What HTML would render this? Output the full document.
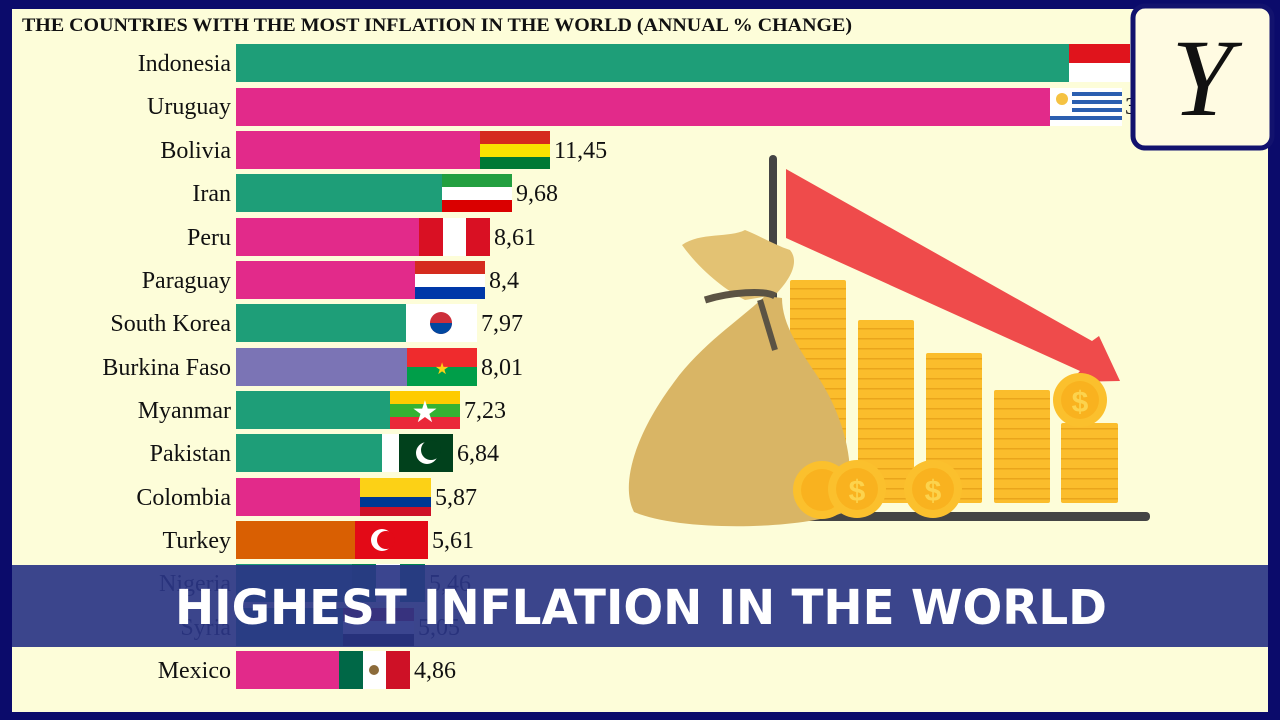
<!DOCTYPE html><html><head><meta charset="utf-8"><style>html,body{margin:0;padding:0;background:#0b0b6b;}svg{display:block}</style></head><body>
<svg width="1280" height="720" viewBox="0 0 1280 720" xmlns="http://www.w3.org/2000/svg">
<defs>
<pattern id="stripes" x="0" y="0" width="10" height="10" patternUnits="userSpaceOnUse">
<rect width="10" height="10" fill="#fbbd2c"/><rect y="8" width="10" height="1.5" fill="#eaa51c"/>
</pattern>
</defs>
<rect x="0" y="0" width="1280" height="720" fill="#0b0b6b"/>
<rect x="12" y="9" width="1256" height="703" fill="#fdfdd9"/>
<text x="22" y="31" font-family="Liberation Serif, serif" font-weight="bold" font-size="19" fill="#111" textLength="830" lengthAdjust="spacingAndGlyphs">THE COUNTRIES WITH THE MOST INFLATION IN THE WORLD (ANNUAL % CHANGE)</text>

<g>
<rect x="769" y="155" width="8" height="200" rx="4" fill="#444"/>
<rect x="790" y="512" width="360" height="9" rx="4" fill="#444"/>
<polygon points="786,169 1092,341 1099,336 1120,381 1070,382 1080,371 786,238" fill="#ef4b4b"/>
<g fill="url(#stripes)">
<rect x="790" y="280" width="56" height="223" rx="2"/>
<rect x="858" y="320" width="56" height="183" rx="2"/>
<rect x="926" y="353" width="56" height="150" rx="2"/>
<rect x="994" y="390" width="56" height="113" rx="2"/>
<rect x="1061" y="423" width="57" height="80" rx="2"/>
</g>
<circle cx="1080" cy="400" r="27" fill="#fbc02d"/><circle cx="1080" cy="400" r="19" fill="#f9b21f"/><text x="1080" y="412" text-anchor="middle" font-family="Liberation Sans,sans-serif" font-size="30" font-weight="bold" fill="#fcd34d">$</text>
<path d="M765,296 C740,320 700,345 672,385 C635,435 620,485 634,512 C680,532 800,530 845,512 C858,470 845,420 820,380 C800,350 782,325 782,298 Z" fill="#d9b565"/>
<path d="M682,245 C700,232 730,238 745,230 C760,236 775,245 790,250 C800,262 790,280 775,295 L745,300 C725,290 700,270 682,245 Z" fill="#e3c273"/>
<path d="M705,300 C730,292 765,290 775,296" stroke="#5b5344" stroke-width="7" fill="none"/>
<path d="M760,300 L775,350" stroke="#5b5344" stroke-width="6" fill="none"/>
<circle cx="822" cy="490" r="29" fill="#fbc02d"/><circle cx="822" cy="490" r="21" fill="#f9b21f"/>
<circle cx="857" cy="489" r="29" fill="#fbc02d"/><circle cx="857" cy="489" r="21" fill="#f9b21f"/><text x="857" y="501" text-anchor="middle" font-family="Liberation Sans,sans-serif" font-size="30" font-weight="bold" fill="#fcd34d">$</text>
<circle cx="933" cy="489" r="29" fill="#fbc02d"/><circle cx="933" cy="489" r="21" fill="#f9b21f"/><text x="933" y="501" text-anchor="middle" font-family="Liberation Sans,sans-serif" font-size="30" font-weight="bold" fill="#fcd34d">$</text>
</g>

<g font-family="Liberation Serif, serif" font-size="24" fill="#111">
<text x="231" y="71" text-anchor="end">Indonesia</text>
<rect x="236" y="44" width="833" height="38" fill="#1e9e78"/>
<rect x="1069" y="44" width="61" height="19" fill="#e0141c"/><rect x="1069" y="63" width="61" height="19" fill="#fff"/>
<text x="231" y="114" text-anchor="end">Uruguay</text>
<rect x="236" y="88" width="814" height="38" fill="#e22a8a"/>
<rect x="1050" y="88" width="72" height="38" fill="#fff"/>
<g fill="#2b5fb0"><rect x="1072" y="92" width="50" height="4"/><rect x="1072" y="100" width="50" height="4"/><rect x="1072" y="108" width="50" height="4"/><rect x="1050" y="116" width="72" height="4"/></g>
<circle cx="1062" cy="99" r="6" fill="#f5c242"/>
<text x="1125" y="114">3</text>
<text x="231" y="158" text-anchor="end">Bolivia</text>
<rect x="236" y="131" width="244" height="38" fill="#e22a8a"/>
<rect x="480" y="131" width="70" height="13" fill="#d52b1e"/><rect x="480" y="144" width="70" height="13" fill="#f9e300"/><rect x="480" y="157" width="70" height="12" fill="#007934"/>
<text x="554" y="158">11,45</text>
<text x="231" y="201" text-anchor="end">Iran</text>
<rect x="236" y="174" width="206" height="38" fill="#1e9e78"/>
<rect x="442" y="174" width="70" height="13" fill="#239f40"/><rect x="442" y="187" width="70" height="13" fill="#fff"/><rect x="442" y="200" width="70" height="12" fill="#da0000"/>
<text x="516" y="201">9,68</text>
<text x="231" y="245" text-anchor="end">Peru</text>
<rect x="236" y="218" width="183" height="38" fill="#e22a8a"/>
<rect x="419" y="218" width="24" height="38" fill="#d91023"/><rect x="443" y="218" width="23" height="38" fill="#fff"/><rect x="466" y="218" width="24" height="38" fill="#d91023"/>
<text x="494" y="245">8,61</text>
<text x="231" y="288" text-anchor="end">Paraguay</text>
<rect x="236" y="261" width="179" height="38" fill="#e22a8a"/>
<rect x="415" y="261" width="70" height="13" fill="#d52b1e"/><rect x="415" y="274" width="70" height="13" fill="#fff"/><rect x="415" y="287" width="70" height="12" fill="#0038a8"/>
<text x="489" y="288">8,4</text>
<text x="231" y="331" text-anchor="end">South Korea</text>
<rect x="236" y="304" width="170" height="38" fill="#1e9e78"/>
<rect x="406" y="304" width="71" height="38" fill="#fff"/>
<circle cx="441" cy="323" r="11" fill="#cd2e3a"/><path d="M430,323 A11,11 0 0 0 452,323 Z" fill="#0047a0"/>
<text x="481" y="331">7,97</text>
<text x="231" y="375" text-anchor="end">Burkina Faso</text>
<rect x="236" y="348" width="171" height="38" fill="#7b74b5"/>
<rect x="407" y="348" width="70" height="19" fill="#ef2b2d"/><rect x="407" y="367" width="70" height="19" fill="#009e49"/>
<text x="442" y="374" text-anchor="middle" font-size="16" fill="#fcd116">★</text>
<text x="481" y="375">8,01</text>
<text x="231" y="418" text-anchor="end">Myanmar</text>
<rect x="236" y="391" width="154" height="38" fill="#1e9e78"/>
<rect x="390" y="391" width="70" height="13" fill="#fecb00"/><rect x="390" y="404" width="70" height="13" fill="#34b233"/><rect x="390" y="417" width="70" height="12" fill="#ea2839"/>
<text x="425" y="422" text-anchor="middle" font-size="30" fill="#fff">★</text>
<text x="464" y="418">7,23</text>
<text x="231" y="461" text-anchor="end">Pakistan</text>
<rect x="236" y="434" width="146" height="38" fill="#1e9e78"/>
<rect x="382" y="434" width="17" height="38" fill="#fff"/><rect x="399" y="434" width="54" height="38" fill="#01411c"/>
<circle cx="427" cy="453" r="11" fill="#fff"/><circle cx="431" cy="450" r="10" fill="#01411c"/>
<text x="457" y="461">6,84</text>
<text x="231" y="505" text-anchor="end">Colombia</text>
<rect x="236" y="478" width="124" height="38" fill="#e22a8a"/>
<rect x="360" y="478" width="71" height="19" fill="#fcd116"/><rect x="360" y="497" width="71" height="10" fill="#003893"/><rect x="360" y="507" width="71" height="9" fill="#ce1126"/>
<text x="435" y="505">5,87</text>
<text x="231" y="548" text-anchor="end">Turkey</text>
<rect x="236" y="521" width="119" height="38" fill="#d95f02"/>
<rect x="355" y="521" width="73" height="38" fill="#e30a17"/>
<circle cx="382" cy="540" r="11" fill="#fff"/><circle cx="386" cy="540" r="9" fill="#e30a17"/>
<text x="432" y="548">5,61</text>
<text x="231" y="591" text-anchor="end">Nigeria</text>
<rect x="236" y="564" width="116" height="38" fill="#1e9e78"/>
<rect x="352" y="564" width="24" height="38" fill="#008751"/><rect x="376" y="564" width="24" height="38" fill="#fff"/><rect x="400" y="564" width="25" height="38" fill="#008751"/>
<text x="429" y="591">5,46</text>
<text x="231" y="635" text-anchor="end">Syria</text>
<rect x="236" y="608" width="107" height="38" fill="#1e9e78"/>
<rect x="343" y="608" width="71" height="13" fill="#ce1126"/><rect x="343" y="621" width="71" height="13" fill="#fff"/><rect x="343" y="634" width="71" height="12" fill="#000"/>
<text x="418" y="635">5,05</text>
<text x="231" y="678" text-anchor="end">Mexico</text>
<rect x="236" y="651" width="103" height="38" fill="#e22a8a"/>
<rect x="339" y="651" width="24" height="38" fill="#006847"/><rect x="363" y="651" width="23" height="38" fill="#fff"/><rect x="386" y="651" width="24" height="38" fill="#ce1126"/>
<circle cx="374" cy="670" r="5" fill="#8c6b3a"/>
<text x="414" y="678">4,86</text>
</g>

<rect x="12" y="565" width="1256" height="82" fill="#2a3585" fill-opacity="0.92"/>
<text x="641" y="624" text-anchor="middle" font-family="DejaVu Sans, Liberation Sans, sans-serif" font-weight="bold" font-size="48" fill="#fff" textLength="932" lengthAdjust="spacingAndGlyphs">HIGHEST INFLATION IN THE WORLD</text>

<rect x="1133" y="6" width="139" height="142" rx="12" fill="#fffbe2" stroke="#12126e" stroke-width="5"/>
<text x="1202" y="115" text-anchor="middle" font-family="Liberation Serif, serif" font-style="italic" font-size="110" fill="#111">Y</text>
</svg>
</body></html>
